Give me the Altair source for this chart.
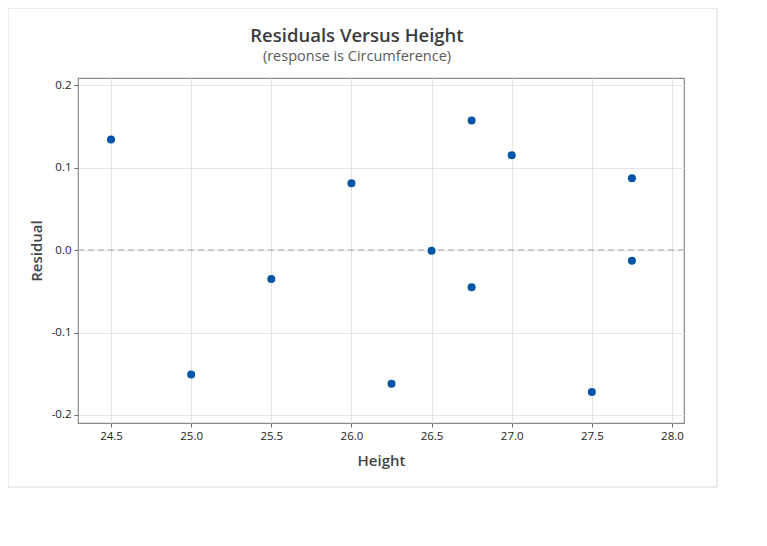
import altair as alt
import pandas as pd

heights = [24.5, 25.0, 25.5, 26.0, 26.25, 26.5, 26.75, 26.75, 27.0, 27.5, 27.75, 27.75]
residuals = [0.134, -0.151, -0.035, 0.081, -0.162, -0.001, 0.157, -0.045, 0.115, -0.172, 0.087, -0.013]
x_ticks = [24.5, 25.0, 25.5, 26.0, 26.5, 27.0, 27.5, 28.0]
y_ticks = [-0.2, -0.1, 0.0, 0.1, 0.2]
ref_value = [0.0]

df = pd.DataFrame({"Height": heights, "Residual": residuals})
ref = pd.DataFrame({"y": ref_value})

W, H = 606, 345
FONT = "Open Sans"

xscale = alt.Scale(domain=[24.294, 28.075], nice=False, zero=False)
yscale = alt.Scale(domain=[-0.2097, 0.2085], nice=False, zero=False)

points = alt.Chart(df).mark_circle(size=64, opacity=1, color="#0054a6").encode(
    x=alt.X("Height:Q", scale=xscale,
            axis=alt.Axis(values=x_ticks, format=".1f", title="Height")),
    y=alt.Y("Residual:Q", scale=yscale,
            axis=alt.Axis(values=y_ticks, format=".1f", title="Residual",
                          labelExpr="replace(datum.label, '\u2212', '-')")),
)

refline = alt.Chart(ref).mark_rule(color="#a0a0a0", strokeDash=[6, 4], strokeWidth=1.2).encode(
    y=alt.Y("y:Q", scale=yscale)
)

frame = alt.Chart(ref).mark_rect(fill=None, stroke="#d9d9d9", strokeWidth=1).encode(
    x=alt.value(-70), x2=alt.value(W + 33), y=alt.value(-70), y2=alt.value(H + 64)
)

chart = alt.layer(frame, refline, points).properties(
    width=W, height=H,
    title=alt.TitleParams(
        "Residuals Versus Height",
        subtitle="(response is Circumference)",
        anchor="middle", dx=-24, offset=-56,
        font=FONT, fontSize=18.5, fontWeight=600, color="#3c3c3c",
        subtitleFont=FONT, subtitleFontSize=14.5, subtitleColor="#5a5a5a",
        subtitlePadding=5,
    ),
    padding={"left": 70, "top": 70, "right": 40, "bottom": 70},
    autosize=alt.AutoSizeParams(type="none"),
).configure_view(
    stroke="#8a8a8a", strokeWidth=1.2
).configure_axis(
    domain=False, grid=True, gridColor="#e3e3e3", gridWidth=1,
    tickColor="#6a6a6a", tickSize=4,
    labelFont=FONT, labelFontSize=11.5, labelColor="#222222",
    titleFont=FONT, titleFontSize=15, titleFontWeight=600, titleColor="#444444",
).configure_axisX(
    labelPadding=3, titlePadding=12
).configure_axisY(
    labelPadding=3, titlePadding=7
)

chart.save("out.html", embed_options={"renderer": "svg", "actions": False})
